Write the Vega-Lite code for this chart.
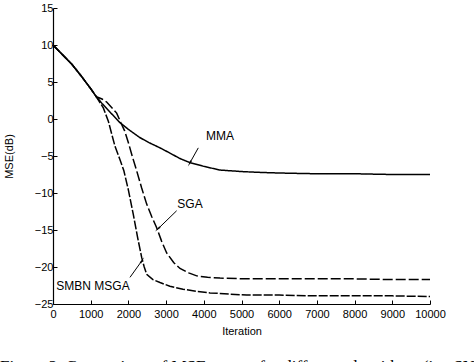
{
  "$schema": "https://vega.github.io/schema/vega-lite/v6.json",
  "width": 377,
  "height": 296,
  "autosize": {"type": "none"},
  "padding": {"left": 53, "top": 8, "right": 44, "bottom": 58},
  "background": "white",
  "config": {
    "view": {"stroke": null},
    "font": "Liberation Sans",
    "axis": {"grid": false, "domainColor": "black", "tickColor": "black", "labelColor": "black", "titleColor": "black", "labelFont": "Liberation Sans", "titleFont": "Liberation Sans", "labelFontSize": 11, "titleFontSize": 11, "titleFontWeight": "normal", "tickSize": -4, "domainWidth": 1.2, "tickWidth": 1}
  },
  "title": {
    "text": "Figure 2.   Comparison of MSE curves for different algorithms (i.e. SNR=10 dB, ...)",
    "orient": "bottom",
    "anchor": "start",
    "frame": "group",
    "font": "Liberation Serif",
    "fontSize": 17,
    "fontWeight": "normal",
    "color": "black",
    "dx": -53,
    "offset": 23
  },
  "datasets": {
    "curves": [
      {"series": "MMA", "iter": 0, "mse": 10},
      {"series": "MMA", "iter": 250, "mse": 8.7},
      {"series": "MMA", "iter": 500, "mse": 7.4},
      {"series": "MMA", "iter": 750, "mse": 5.8},
      {"series": "MMA", "iter": 1000, "mse": 4.1},
      {"series": "MMA", "iter": 1150, "mse": 3.0},
      {"series": "MMA", "iter": 1300, "mse": 2.1},
      {"series": "MMA", "iter": 1500, "mse": 1.0},
      {"series": "MMA", "iter": 1777, "mse": -0.5},
      {"series": "MMA", "iter": 2000, "mse": -1.4},
      {"series": "MMA", "iter": 2300, "mse": -2.5},
      {"series": "MMA", "iter": 2550, "mse": -3.2},
      {"series": "MMA", "iter": 2838, "mse": -3.9},
      {"series": "MMA", "iter": 3100, "mse": -4.6},
      {"series": "MMA", "iter": 3350, "mse": -5.3},
      {"series": "MMA", "iter": 3634, "mse": -5.9},
      {"series": "MMA", "iter": 4000, "mse": -6.4},
      {"series": "MMA", "iter": 4430, "mse": -6.9},
      {"series": "MMA", "iter": 5000, "mse": -7.1},
      {"series": "MMA", "iter": 5400, "mse": -7.2},
      {"series": "MMA", "iter": 6000, "mse": -7.3},
      {"series": "MMA", "iter": 7000, "mse": -7.4},
      {"series": "MMA", "iter": 8000, "mse": -7.4},
      {"series": "MMA", "iter": 9000, "mse": -7.5},
      {"series": "MMA", "iter": 10000, "mse": -7.5},
      {"series": "SGA", "iter": 0, "mse": 10},
      {"series": "SGA", "iter": 250, "mse": 8.7},
      {"series": "SGA", "iter": 500, "mse": 7.4},
      {"series": "SGA", "iter": 750, "mse": 5.8},
      {"series": "SGA", "iter": 1000, "mse": 4.1},
      {"series": "SGA", "iter": 1150, "mse": 3.0},
      {"series": "SGA", "iter": 1300, "mse": 2.7},
      {"series": "SGA", "iter": 1423, "mse": 2.3},
      {"series": "SGA", "iter": 1550, "mse": 1.6},
      {"series": "SGA", "iter": 1689, "mse": 0.8},
      {"series": "SGA", "iter": 1800, "mse": -0.5},
      {"series": "SGA", "iter": 1900, "mse": -1.6},
      {"series": "SGA", "iter": 2000, "mse": -3.2},
      {"series": "SGA", "iter": 2100, "mse": -5.0},
      {"series": "SGA", "iter": 2220, "mse": -7.0},
      {"series": "SGA", "iter": 2350, "mse": -9.3},
      {"series": "SGA", "iter": 2485, "mse": -11.5},
      {"series": "SGA", "iter": 2620, "mse": -13.2},
      {"series": "SGA", "iter": 2750, "mse": -14.7},
      {"series": "SGA", "iter": 2880, "mse": -16.5},
      {"series": "SGA", "iter": 3015, "mse": -18.1},
      {"series": "SGA", "iter": 3200, "mse": -19.4},
      {"series": "SGA", "iter": 3369, "mse": -20.2},
      {"series": "SGA", "iter": 3600, "mse": -20.8},
      {"series": "SGA", "iter": 3812, "mse": -21.2},
      {"series": "SGA", "iter": 4100, "mse": -21.4},
      {"series": "SGA", "iter": 4430, "mse": -21.5},
      {"series": "SGA", "iter": 5150, "mse": -21.6},
      {"series": "SGA", "iter": 6000, "mse": -21.6},
      {"series": "SGA", "iter": 7000, "mse": -21.6},
      {"series": "SGA", "iter": 8000, "mse": -21.6},
      {"series": "SGA", "iter": 9000, "mse": -21.7},
      {"series": "SGA", "iter": 10000, "mse": -21.7},
      {"series": "SMBN MSGA", "iter": 0, "mse": 10},
      {"series": "SMBN MSGA", "iter": 250, "mse": 8.7},
      {"series": "SMBN MSGA", "iter": 500, "mse": 7.4},
      {"series": "SMBN MSGA", "iter": 750, "mse": 5.8},
      {"series": "SMBN MSGA", "iter": 1000, "mse": 4.1},
      {"series": "SMBN MSGA", "iter": 1150, "mse": 3.0},
      {"series": "SMBN MSGA", "iter": 1335, "mse": 1.5},
      {"series": "SMBN MSGA", "iter": 1468, "mse": -0.3},
      {"series": "SMBN MSGA", "iter": 1556, "mse": -2.0},
      {"series": "SMBN MSGA", "iter": 1645, "mse": -3.7},
      {"series": "SMBN MSGA", "iter": 1770, "mse": -5.4},
      {"series": "SMBN MSGA", "iter": 1880, "mse": -7.0},
      {"series": "SMBN MSGA", "iter": 2000, "mse": -9.6},
      {"series": "SMBN MSGA", "iter": 2130, "mse": -12.9},
      {"series": "SMBN MSGA", "iter": 2240, "mse": -15.9},
      {"series": "SMBN MSGA", "iter": 2352, "mse": -18.7},
      {"series": "SMBN MSGA", "iter": 2420, "mse": -20.0},
      {"series": "SMBN MSGA", "iter": 2485, "mse": -21.0},
      {"series": "SMBN MSGA", "iter": 2650, "mse": -21.7},
      {"series": "SMBN MSGA", "iter": 2838, "mse": -22.1},
      {"series": "SMBN MSGA", "iter": 3100, "mse": -22.6},
      {"series": "SMBN MSGA", "iter": 3448, "mse": -23.0},
      {"series": "SMBN MSGA", "iter": 3800, "mse": -23.3},
      {"series": "SMBN MSGA", "iter": 4165, "mse": -23.5},
      {"series": "SMBN MSGA", "iter": 5138, "mse": -23.8},
      {"series": "SMBN MSGA", "iter": 6000, "mse": -23.8},
      {"series": "SMBN MSGA", "iter": 7000, "mse": -23.9},
      {"series": "SMBN MSGA", "iter": 8000, "mse": -23.9},
      {"series": "SMBN MSGA", "iter": 9000, "mse": -23.9},
      {"series": "SMBN MSGA", "iter": 10000, "mse": -24.0}
    ],
    "labels": [
      {"label": "MMA", "iter": 4430, "mse": -2.3},
      {"label": "SGA", "iter": 3634, "mse": -11.5},
      {"label": "SMBN MSGA", "iter": 1061, "mse": -22.6}
    ],
    "arrows": [
      {"label": "MMA", "iter": 3854, "mse": -3.9, "iter_end": 3634, "mse_end": -5.9},
      {"label": "SGA", "iter": 3280, "mse": -12.4, "iter_end": 2794, "mse_end": -14.8},
      {"label": "SMBN MSGA", "iter": 2042, "mse": -21.4, "iter_end": 2352, "mse_end": -19.2}
    ],
    "heads": [
      {"label": "MMA", "iter": 3634, "mse": -5.9},
      {"label": "SGA", "iter": 2794, "mse": -14.8},
      {"label": "SMBN MSGA", "iter": 2352, "mse": -19.2}
    ]
  },
  "encoding": {
    "x": {"field": "iter", "type": "quantitative", "scale": {"domain": [0, 10000], "nice": false},
          "axis": {"values": [0, 1000, 2000, 3000, 4000, 5000, 6000, 7000, 8000, 9000, 10000], "title": "Iteration", "labelPadding": 8, "titlePadding": 6, "labelFlush": false, "labelOverlap": false, "labelBound": false, "format": "d"}},
    "y": {"field": "mse", "type": "quantitative", "scale": {"domain": [-25, 15], "nice": false},
          "axis": {"values": [-25, -20, -15, -10, -5, 0, 5, 10, 15], "title": "MSE(dB)", "labelPadding": 4, "titlePadding": 20, "labelOverlap": false, "labelBound": false}}
  },
  "layer": [
    {
      "data": {"name": "curves"},
      "mark": {"type": "line", "color": "black", "strokeWidth": 1.5},
      "encoding": {
        "detail": {"field": "series"},
        "strokeDash": {"field": "series", "type": "nominal", "legend": null,
                       "scale": {"domain": ["MMA", "SGA", "SMBN MSGA"], "range": [[1, 0], [10, 3], [9, 2]]}}
      }
    },
    {
      "data": {"name": "arrows"},
      "mark": {"type": "rule", "color": "black", "strokeWidth": 1},
      "encoding": {
        "x2": {"field": "iter_end"},
        "y2": {"field": "mse_end"}
      }
    },
    {
      "data": {"name": "heads"},
      "transform": [{"filter": "datum.label === 'MMA'"}],
      "mark": {"type": "point", "shape": "wedge", "filled": true, "color": "black", "opacity": 1, "size": 60, "angle": 208},
      "encoding": {}
    },
    {
      "data": {"name": "heads"},
      "transform": [{"filter": "datum.label === 'SGA'"}],
      "mark": {"type": "point", "shape": "wedge", "filled": true, "color": "black", "opacity": 1, "size": 60, "angle": 227},
      "encoding": {}
    },
    {
      "data": {"name": "heads"},
      "transform": [{"filter": "datum.label === 'SMBN MSGA'"}],
      "mark": {"type": "point", "shape": "wedge", "filled": true, "color": "black", "opacity": 1, "size": 60, "angle": 34},
      "encoding": {}
    },
    {
      "data": {"name": "labels"},
      "mark": {"type": "text", "font": "Liberation Sans", "fontSize": 12, "color": "black", "align": "center", "baseline": "middle"},
      "encoding": {
        "text": {"field": "label"}
      }
    }
  ]
}
